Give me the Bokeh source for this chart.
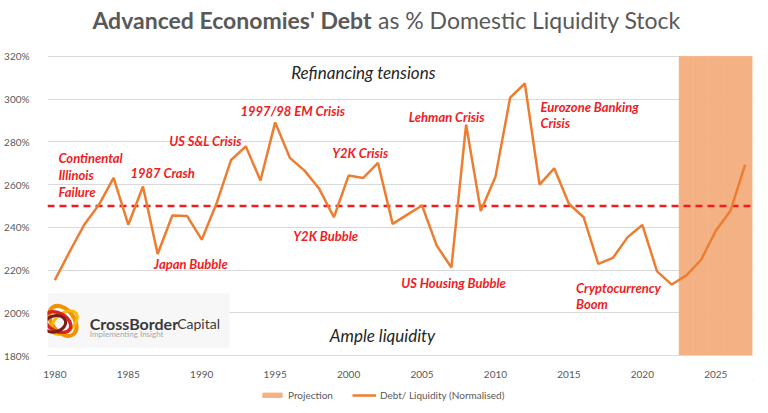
from bokeh.plotting import figure
from bokeh.layouts import column
from bokeh.models import (Range1d, FixedTicker, PrintfTickFormatter,
                          Legend, LegendItem, ColumnDataSource)
from bokeh.core.properties import value
from bokeh.embed import file_html
from bokeh.resources import INLINE

# ---- data -------------------------------------------------------------
years = list(range(1980, 2028))
debt_liquidity = [215.3, 228.5, 241.2, 250.5, 263.1, 241.2, 259.1, 227.5, 245.5, 245.3,
                  234.2, 251.0, 271.5, 277.9, 261.9, 289.1, 272.5, 266.5, 258.0, 244.7,
                  264.2, 263.1, 270.1, 241.6, 245.9, 250.2, 231.4, 221.2, 288.1, 247.6,
                  263.7, 300.7, 307.3, 260.0, 267.6, 251.0, 244.7, 222.9, 225.7, 235.4,
                  241.1, 219.4, 213.2, 217.5, 224.8, 238.4, 247.7, 269.3]
projection_years = [2023, 2024, 2025, 2026, 2027]
projection_top = [320, 320, 320, 320, 320]
threshold = 250

y_ticks = [180, 200, 220, 240, 260, 280, 300, 320]
x_ticks = [1980, 1985, 1990, 1995, 2000, 2005, 2010, 2015, 2020, 2025]

event_labels = ["Continental", "Illinois", "Failure", "1987 Crash", "US S&L Crisis",
                "1997/98 EM Crisis", "Y2K Crisis", "Lehman Crisis", "Eurozone Banking",
                "Crisis", "Japan Bubble", "Y2K Bubble", "US Housing Bubble",
                "Cryptocurrency", "Boom"]
event_x = [1980.25, 1980.25, 1980.25, 1985.15, 1987.79, 1992.64, 1998.88, 2004.10,
           2013.06, 2013.06, 1986.74, 1996.23, 2003.58, 2015.49, 2015.49]
event_y = [272.2, 264.6, 256.6, 265.3, 280.6, 294.5, 274.7, 291.8, 296.2, 288.7,
           223.0, 235.7, 214.1, 211.8, 204.1]

ORANGE = "#ED7D31"
SHADE = "#F4B183"
RED = "#EE1D23"
GREY = "#595959"

# the frame reaches the top of the canvas so the heading sits inside it;
# ticks and grid stop at 320%
p = figure(width=768, height=380, x_range=Range1d(1979.5, 2027.5),
           y_range=Range1d(180, 346.13), output_backend="svg", toolbar_location=None,
           min_border_left=47, min_border_right=16, min_border_top=0,
           min_border_bottom=24, outline_line_color=None)

# axes
p.yaxis.ticker = FixedTicker(ticks=y_ticks)
p.yaxis.formatter = PrintfTickFormatter(format="%d%%")
p.xaxis.ticker = FixedTicker(ticks=x_ticks)
for ax in (p.xaxis, p.yaxis):
    ax.major_tick_line_color = None
    ax.minor_tick_line_color = None
    ax.major_label_text_font = "Lato"
    ax.major_label_text_font_size = "10px"
    ax.major_label_text_color = GREY
p.yaxis.axis_line_color = None
p.xaxis.axis_line_color = "#D9D9D9"
p.yaxis.major_label_standoff = 12
p.xaxis.major_label_standoff = 9
p.xgrid.visible = False
p.ygrid.grid_line_color = "#D9D9D9"
p.ygrid.grid_line_width = 1

# projection window
bars = p.vbar(x=projection_years, top=projection_top, bottom=180, width=1.0,
              fill_color=SHADE, line_color=SHADE, line_width=0.5)

# threshold
p.segment(x0=[1979.5], x1=[2027.5], y0=[threshold], y1=[threshold],
          line_color=RED, line_width=2.5, line_dash="7 5")

# main series
line = p.line(years, debt_liquidity, line_color=ORANGE, line_width=2.5)

# event annotations
src = ColumnDataSource(dict(x=event_x, y=event_y, t=event_labels))
p.text(x="x", y="y", text="t", source=src, text_font=value("Lato"),
       text_font_style="bold italic", text_font_size="13px", text_color=RED,
       text_align="left", text_baseline="middle")

p.text(x=[1996.09, 1998.72], y=[312.4, 189.5],
       text=["Refinancing tensions", "Ample liquidity"], text_font=value("Lato"),
       text_font_style="italic", text_font_size="17px", text_color="#262626",
       text_align="left", text_baseline="middle")

# company mark
p.quad(left=[1979.5], right=[1991.9], bottom=[183.4], top=[209.1],
       fill_color="#F7F7F7", line_color=None)
p.ellipse(x=[1980.55, 1980.65, 1980.2, 1980.0], y=[196.2, 195.4, 195.6, 194.8],
          width=[34, 30, 28, 22], height=[22, 18, 18, 16],
          angle=[-0.9, 0.7, -0.5, 0.3], width_units="screen", height_units="screen",
          fill_color=None, line_color=["#F39200", "#FBBA00", "#D7261E", "#7D1A1A"],
          line_width=[4, 3, 3.5, 3])
p.text(x=[1982.38], y=[195.1], text=["CrossBorder"], text_font=value("Lato"),
       text_font_style="bold", text_font_size="16px", text_color="#3A3A3A",
       text_align="left", text_baseline="middle")
p.text(x=[1988.33], y=[195.1], text=["Capital"], text_font=value("Lato"),
       text_font_size="14px", text_color="#3A3A3A",
       text_align="left", text_baseline="middle")
p.text(x=[1982.38], y=[190.0], text=["Implementing Insight"], text_font=value("Lato"),
       text_font_size="8px", text_color="#A8A8A8",
       text_align="left", text_baseline="middle")

# heading: bold lead followed by regular text
p.text(x=[2001.56], y=[336.8], text=["Advanced Economies' Debt"],
       text_font=value("Lato"), text_font_style="bold", text_font_size="23px",
       text_color=GREY, text_align="right", text_baseline="middle")
p.text(x=[2002.0], y=[336.8], text=["as % Domestic Liquidity Stock"],
       text_font=value("Lato"), text_font_size="23px",
       text_color=GREY, text_align="left", text_baseline="middle")

# legend strip under the chart; its swatch renderers sit outside the visible range
key = figure(width=768, height=33, x_range=Range1d(0, 1), y_range=Range1d(0, 1),
             x_axis_type=None, y_axis_type=None, output_backend="svg",
             toolbar_location=None, min_border=0, outline_line_color=None)
key.grid.visible = False
key_bar = key.vbar(x=[5], top=[6], bottom=[5], width=1.0, fill_color=SHADE,
                   line_color=SHADE)
key_line = key.line(x=[5, 6], y=[5, 5], line_color=ORANGE, line_width=2.5)
legend = Legend(items=[LegendItem(label="Projection", renderers=[key_bar]),
                       LegendItem(label="Debt/ Liquidity (Normalised)", renderers=[key_line])],
                orientation="horizontal", location=(213, 12), glyph_width=24,
                glyph_height=6, label_height=12, label_standoff=4, spacing=19,
                padding=0, margin=0, border_line_color=None, background_fill_alpha=0,
                label_text_font="Lato", label_text_font_size="10px",
                label_text_color=GREY)
key.add_layout(legend)

layout = column(p, key, spacing=0)
open("out.html", "w").write(file_html(layout, INLINE))
